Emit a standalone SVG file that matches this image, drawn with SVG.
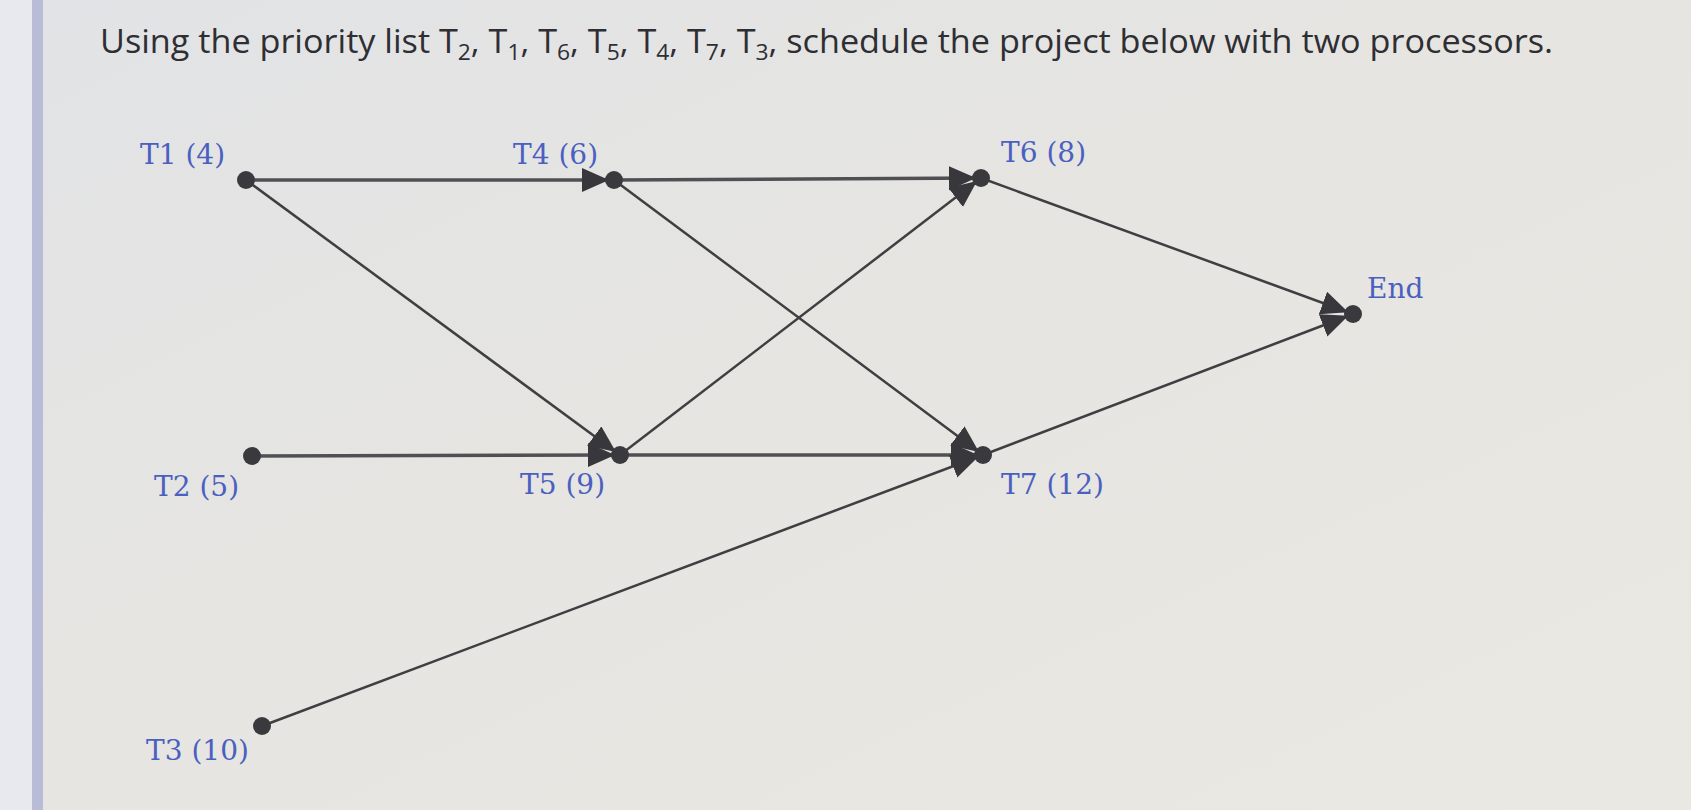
<svg xmlns="http://www.w3.org/2000/svg" width="1691" height="810" viewBox="0 0 1691 810">
  <style>
    .title { font-family: "Open Sans", "Liberation Sans", sans-serif; font-size: 33px; font-weight: 500; fill: #2e2e33; }
    .sub { font-size: 22px; }
    .lbl { font-family: "DejaVu Serif", "Liberation Serif", serif; font-size: 28px; fill: #4a60c0; }
    .edge { stroke: #3f3f42; stroke-width: 2.5; fill: none; }
    .hedge { stroke: #505054; stroke-width: 3.5; fill: none; }
    .dot { fill: #3a3a3e; }
  </style>
  <defs>
    <linearGradient id="bg" x1="0" y1="0" x2="1" y2="1">
      <stop offset="0" stop-color="#e2e3e6"/>
      <stop offset="0.5" stop-color="#e6e5e1"/>
      <stop offset="1" stop-color="#eae8e2"/>
    </linearGradient>
    <marker id="arr" markerUnits="userSpaceOnUse" markerWidth="40" markerHeight="26" refX="32" refY="12" orient="auto">
      <path d="M0,0 L27,12 L0,24 z" fill="#38383c"/>
    </marker>
  </defs>

  <rect x="0" y="0" width="1691" height="810" fill="url(#bg)"/>
  <rect x="0" y="0" width="32" height="810" fill="#e8e9ee"/>
  <rect x="32" y="0" width="11" height="810" fill="#b8bcd6"/>

  <text class="title" x="100" y="53" textLength="1453" lengthAdjust="spacingAndGlyphs">Using the priority list T<tspan class="sub" dy="7">2</tspan><tspan dy="-7">, T</tspan><tspan class="sub" dy="7">1</tspan><tspan dy="-7">, T</tspan><tspan class="sub" dy="7">6</tspan><tspan dy="-7">, T</tspan><tspan class="sub" dy="7">5</tspan><tspan dy="-7">, T</tspan><tspan class="sub" dy="7">4</tspan><tspan dy="-7">, T</tspan><tspan class="sub" dy="7">7</tspan><tspan dy="-7">, T</tspan><tspan class="sub" dy="7">3</tspan><tspan dy="-7">, schedule the project below with two processors.</tspan></text>

  <g id="connectors">
    <line class="hedge" x1="246" y1="180" x2="614" y2="180" marker-end="url(#arr)"/>
    <line class="edge" x1="246" y1="180" x2="620" y2="455" marker-end="url(#arr)"/>
    <line class="hedge" x1="614" y1="180" x2="981" y2="178" marker-end="url(#arr)"/>
    <line class="edge" x1="614" y1="180" x2="983" y2="455" marker-end="url(#arr)"/>
    <line class="hedge" x1="252" y1="456" x2="620" y2="455" marker-end="url(#arr)"/>
    <line class="edge" x1="620" y1="455" x2="981" y2="178" marker-end="url(#arr)"/>
    <line class="hedge" x1="620" y1="455" x2="983" y2="455" marker-end="url(#arr)"/>
    <line class="edge" x1="262" y1="726" x2="983" y2="455" marker-end="url(#arr)"/>
    <line class="edge" x1="981" y1="178" x2="1353" y2="314" marker-end="url(#arr)"/>
    <line class="edge" x1="983" y1="455" x2="1353" y2="314" marker-end="url(#arr)"/>
  </g>

  <g id="T1"><circle class="dot" cx="246" cy="180" r="9"/><text class="lbl" x="140" y="164">T1 (4)</text></g>
  <g id="T4"><circle class="dot" cx="614" cy="180" r="9"/><text class="lbl" x="513" y="164">T4 (6)</text></g>
  <g id="T6"><circle class="dot" cx="981" cy="178" r="9"/><text class="lbl" x="1001" y="162">T6 (8)</text></g>
  <g id="End"><circle class="dot" cx="1353" cy="314" r="9"/><text class="lbl" x="1367" y="298">End</text></g>
  <g id="T2"><circle class="dot" cx="252" cy="456" r="9"/><text class="lbl" x="154" y="496">T2 (5)</text></g>
  <g id="T5"><circle class="dot" cx="620" cy="455" r="9"/><text class="lbl" x="520" y="494">T5 (9)</text></g>
  <g id="T7"><circle class="dot" cx="983" cy="455" r="9"/><text class="lbl" x="1001" y="494">T7 (12)</text></g>
  <g id="T3"><circle class="dot" cx="262" cy="726" r="9"/><text class="lbl" x="146" y="760">T3 (10)</text></g>
</svg>
